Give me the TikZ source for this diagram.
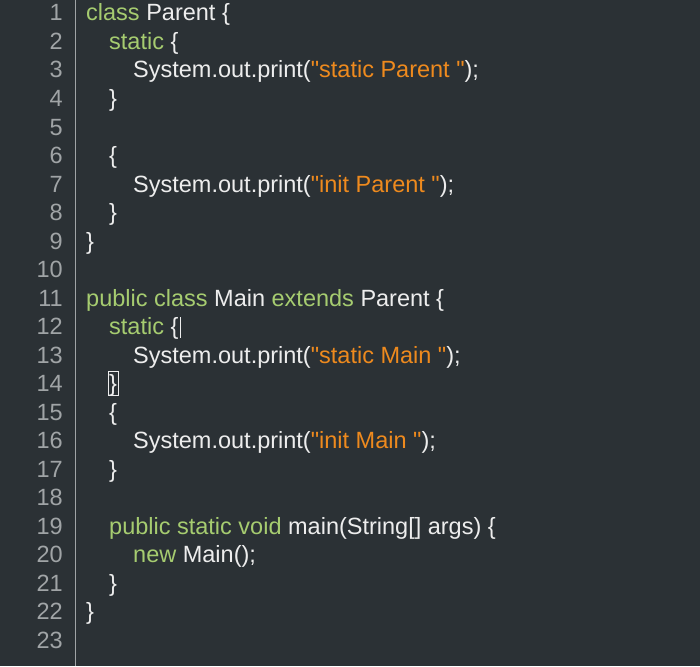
\documentclass[tikz,border=0pt]{standalone}
\usepackage{fontspec}
\setmainfont[Ligatures=TeXOff]{Liberation Sans}
\definecolor{bg}{HTML}{2B3135}
\definecolor{num}{HTML}{A0A4A6}
\definecolor{kw}{HTML}{A6CC70}
\definecolor{str}{HTML}{EE8A1E}
\definecolor{txt}{HTML}{EDEDED}
\newcommand{\K}[1]{{\color{kw}#1}}
\newcommand{\Q}{\symbol{34}}
\newcommand{\Sg}[1]{{\color{str}\Q#1\Q}}
\tikzset{code/.style={anchor=base west,inner sep=0pt,text=txt,font=\fontsize{23.5}{26}\selectfont},
ln/.style={anchor=base east,inner sep=0pt,text=num,font=\fontsize{23.5}{26}\selectfont}}
\begin{document}
\begin{tikzpicture}[x=1pt,y=-1pt]
\fill[bg] (0,0) rectangle (700,666);
\useasboundingbox (0,0) rectangle (700,666);
\draw[num,line width=0.8pt] (75,0) -- (75,666);
\foreach \i in {1,...,23}{
  \node[ln] (n\i) at (63,{21+(\i-1)*28.5}) {\i};
}
\node[code] (l1) at (86,21) {\K{class} Parent \{};
\node[code] (l2) at (109,49.5) {\K{static} \{};
\node[code] (l3) at (133,78) {System.out.print(\Sg{static Parent });};
\node[code] (l4) at (109,106.5) {\}};
\node[code] (l6) at (109,163.5) {\{};
\node[code] (l7) at (133,192) {System.out.print(\Sg{init Parent });};
\node[code] (l8) at (109,220.5) {\}};
\node[code] (l9) at (86,249) {\}};
\node[code] (l11) at (86,306) {\K{public class} Main \K{extends} Parent \{};
\node[code] (l12) at (109,334.5) {\K{static} \{};
\node[code] (l13) at (133,363) {System.out.print(\Sg{static Main });};
\node[code] (l14) at (109,391.5) {\}};
\node[code] (l15) at (109,420) {\{};
\node[code] (l16) at (133,448.5) {System.out.print(\Sg{init Main });};
\node[code] (l17) at (109,477) {\}};
\node[code] (l19) at (109,534) {\K{public static void} main(String[] args) \{};
\node[code] (l20) at (133,562.5) {\K{new} Main();};
\node[code] (l21) at (109,591) {\}};
\node[code] (l22) at (86,619.5) {\}};
\draw[txt,line width=0.6pt] ([xshift=-1pt]l14.base west) ++(0,4) rectangle ++(10,-24);
\draw[txt,line width=0.8pt] ([xshift=2pt]l12.base east) ++(0,3) -- ++(0,-21);
\end{tikzpicture}
\end{document}
